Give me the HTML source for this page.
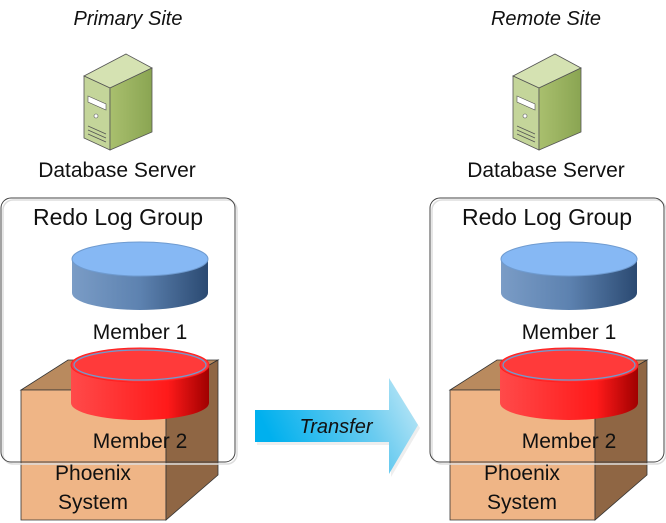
<!DOCTYPE html>
<html><head><meta charset="utf-8"><style>
html,body{margin:0;padding:0;background:#fff;}
svg{display:block;}
text{font-family:"Liberation Sans",sans-serif;fill:#111;}
</style></head><body>
<svg width="666" height="523" viewBox="0 0 666 523" xmlns="http://www.w3.org/2000/svg">
<defs>
<linearGradient id="blue" x1="0" x2="1" y1="0" y2="0">
<stop offset="0" stop-color="#7a9cc6"/><stop offset="0.5" stop-color="#5d82b0"/><stop offset="1" stop-color="#2b4a72"/></linearGradient>
<linearGradient id="red" x1="0" x2="1" y1="0" y2="0">
<stop offset="0" stop-color="#ff4a4a"/><stop offset="0.7" stop-color="#ff1a1a"/><stop offset="1" stop-color="#a00000"/></linearGradient>
<linearGradient id="arr" x1="0" x2="1" y1="0.3" y2="0">
<stop offset="0" stop-color="#00b0ee"/><stop offset="0.6" stop-color="#6cccf0"/><stop offset="1" stop-color="#c9ebf7"/></linearGradient>
<linearGradient id="srvR" x1="0" x2="1"><stop offset="0" stop-color="#a9bf6e"/><stop offset="1" stop-color="#8aa552"/></linearGradient>
</defs>

<polygon points="257,413 391,413 391,381 420,428 391,477 391,445 257,445" fill="#ddd" opacity="0.5"/>
<polygon points="255,410 389,410 389,378 418,425 389,474 389,442 255,442" fill="url(#arr)"/>
<text x="336" y="433" font-size="20" font-style="italic" text-anchor="middle">Transfer</text>

<g>
<text x="128" y="25" font-size="20" font-style="italic" text-anchor="middle">Primary Site</text>
<polygon points="84,76 126,54 152,68 110,88" fill="#d5e2b2" stroke="#555" stroke-width="0.8"/>
<polygon points="84,76 110,88 110,150 84,138" fill="#c4d59a" stroke="#555" stroke-width="0.8"/>
<polygon points="110,88 152,68 152,132 110,150" fill="url(#srvR)" stroke="#555" stroke-width="0.8"/>
<polygon points="88,96 106,104 106,110 88,102" fill="#fff" stroke="#555" stroke-width="0.6"/>
<circle cx="96" cy="116" r="2" fill="#fff" stroke="#555" stroke-width="0.6"/>
<path d="M88,126 L106,134 M88,130 L106,138 M88,134 L106,142" stroke="#555" stroke-width="0.8"/>
<text x="117" y="177" font-size="21" text-anchor="middle">Database Server</text>

<polygon points="21,390 68,360 218,360 166,390" fill="#b98a5e" stroke="#333" stroke-width="0.8"/>
<polygon points="21,390 166,390 166,520 21,520" fill="#efb586" stroke="#333" stroke-width="0.8"/>
<polygon points="166,390 218,360 218,475 166,520" fill="#8f6644" stroke="#333" stroke-width="0.8"/>
<rect x="3" y="200" width="234" height="264" rx="10" fill="none" stroke="#ddd" stroke-width="1.5"/>
<rect x="1" y="198" width="234" height="264" rx="10" fill="none" stroke="#444" stroke-width="1"/>
<text x="118" y="225" font-size="23" text-anchor="middle">Redo Log Group</text>
<path d="M72,259 L72,293 A68,17 0 0 0 208,293 L208,259 Z" fill="url(#blue)"/>
<ellipse cx="140" cy="259" rx="68" ry="17" fill="#86b8f4" stroke="#6f9bd0" stroke-width="1"/>
<text x="140" y="339" font-size="21" text-anchor="middle">Member 1</text>
<path d="M71,365 L71,403 A69,17 0 0 0 209,403 L209,365 Z" fill="url(#red)"/>
<ellipse cx="140" cy="365" rx="69" ry="17" fill="#ff3a3a" stroke="#ff2020" stroke-width="1"/>
<ellipse cx="140" cy="365" rx="66" ry="15" fill="none" stroke="#6f9bd0" stroke-width="1.2"/>
<text x="140" y="448" font-size="21" text-anchor="middle">Member 2</text>
<text x="93" y="480" font-size="21" text-anchor="middle">Phoenix</text>
<text x="93" y="509" font-size="21" text-anchor="middle">System</text>
</g>

<g transform="translate(429,0)">
<text x="117" y="25" font-size="20" font-style="italic" text-anchor="middle">Remote Site</text>
<polygon points="84,76 126,54 152,68 110,88" fill="#d5e2b2" stroke="#555" stroke-width="0.8"/>
<polygon points="84,76 110,88 110,150 84,138" fill="#c4d59a" stroke="#555" stroke-width="0.8"/>
<polygon points="110,88 152,68 152,132 110,150" fill="url(#srvR)" stroke="#555" stroke-width="0.8"/>
<polygon points="88,96 106,104 106,110 88,102" fill="#fff" stroke="#555" stroke-width="0.6"/>
<circle cx="96" cy="116" r="2" fill="#fff" stroke="#555" stroke-width="0.6"/>
<path d="M88,126 L106,134 M88,130 L106,138 M88,134 L106,142" stroke="#555" stroke-width="0.8"/>
<text x="117" y="177" font-size="21" text-anchor="middle">Database Server</text>

<polygon points="21,390 68,360 218,360 166,390" fill="#b98a5e" stroke="#333" stroke-width="0.8"/>
<polygon points="21,390 166,390 166,520 21,520" fill="#efb586" stroke="#333" stroke-width="0.8"/>
<polygon points="166,390 218,360 218,475 166,520" fill="#8f6644" stroke="#333" stroke-width="0.8"/>
<rect x="3" y="200" width="234" height="264" rx="10" fill="none" stroke="#ddd" stroke-width="1.5"/>
<rect x="1" y="198" width="234" height="264" rx="10" fill="none" stroke="#444" stroke-width="1"/>
<text x="118" y="225" font-size="23" text-anchor="middle">Redo Log Group</text>
<path d="M72,259 L72,293 A68,17 0 0 0 208,293 L208,259 Z" fill="url(#blue)"/>
<ellipse cx="140" cy="259" rx="68" ry="17" fill="#86b8f4" stroke="#6f9bd0" stroke-width="1"/>
<text x="140" y="339" font-size="21" text-anchor="middle">Member 1</text>
<path d="M71,365 L71,403 A69,17 0 0 0 209,403 L209,365 Z" fill="url(#red)"/>
<ellipse cx="140" cy="365" rx="69" ry="17" fill="#ff3a3a" stroke="#ff2020" stroke-width="1"/>
<ellipse cx="140" cy="365" rx="66" ry="15" fill="none" stroke="#6f9bd0" stroke-width="1.2"/>
<text x="140" y="448" font-size="21" text-anchor="middle">Member 2</text>
<text x="93" y="480" font-size="21" text-anchor="middle">Phoenix</text>
<text x="93" y="509" font-size="21" text-anchor="middle">System</text>
</g>
</svg>
</body></html>
